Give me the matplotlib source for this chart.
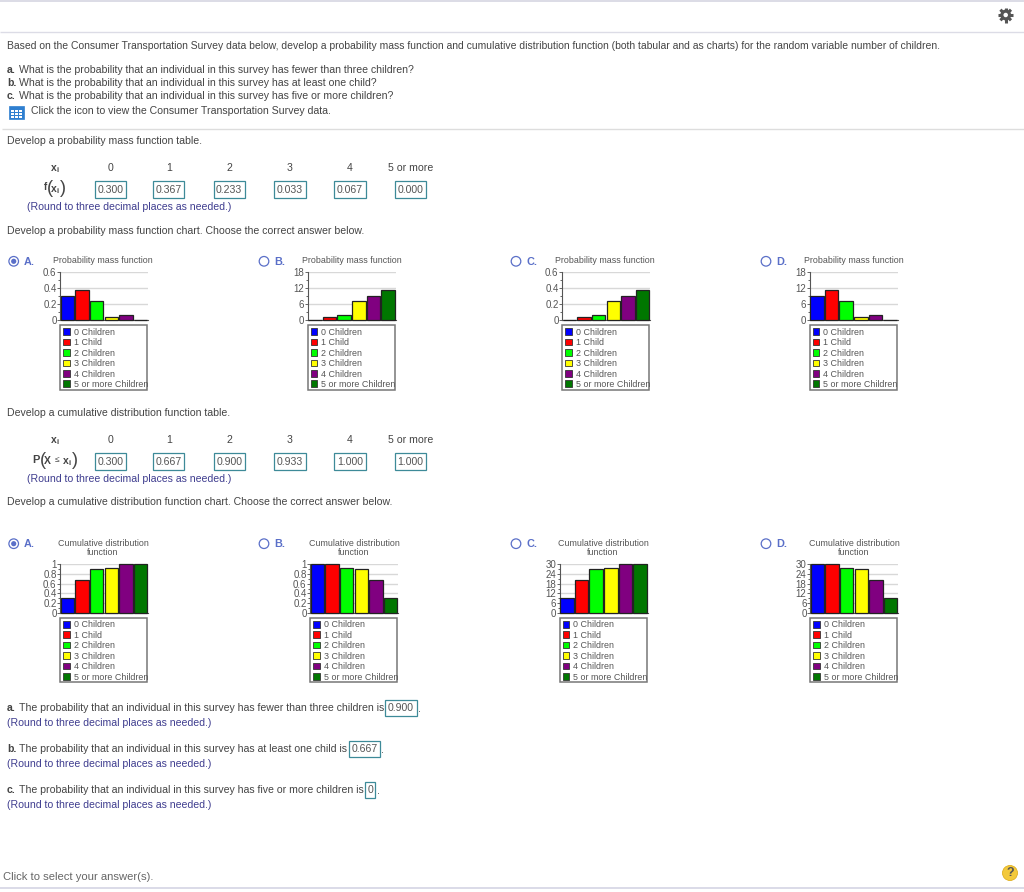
import numpy as np
import matplotlib
matplotlib.use("Agg")
import matplotlib.pyplot as plt
from matplotlib.patches import Circle, Rectangle

plt.rcParams["font.family"] = ["Liberation Sans", "DejaVu Sans"]

W, H = 1024, 892
TXT = "#444444"
NAVY = "#3f3d8f"
TEAL = "#3d8a98"
RADIO = "#5a6fc8"

categories = ["0 Children", "1 Child", "2 Children", "3 Children", "4 Children", "5 or more Children"]
bar_colors = ["#0000ff", "#ff0000", "#00ff00", "#ffff00", "#800080", "#007700"]

# table answers
x_heads = ["0", "1", "2", "3", "4", "5 or more"]
pmf_table = ["0.300", "0.367", "0.233", "0.033", "0.067", "0.000"]
cdf_table = ["0.300", "0.667", "0.900", "0.933", "1.000", "1.000"]

# bar values of the answer choices
pmf_a = [0.300, 0.367, 0.233, 0.033, 0.067, 0.0]
pmf_b = [0, 1, 2, 7, 9, 11]
pmf_c = [0.0, 0.033, 0.067, 0.233, 0.300, 0.367]
pmf_d = [9, 11, 7, 1, 2, 0]
cdf_a = [0.300, 0.667, 0.900, 0.933, 1.0, 1.0]
cdf_b = [1.0, 1.0, 0.933, 0.900, 0.667, 0.300]
cdf_c = [9, 20, 27, 28, 30, 30]
cdf_d = [30, 30, 28, 27, 20, 9]

fig = plt.figure(figsize=(W / 100, H / 100), dpi=100, facecolor="white")
page = fig.add_axes([0, 0, 1, 1])
page.set_xlim(0, W)
page.set_ylim(H, 0)
page.axis("off")


def put(x, y, s, size=7.55, color=TXT, **kw):
    kw.setdefault("va", "center")
    page.text(x, y + 0.8, s, fontsize=size, color=color, **kw)


def hline(y, x0=0, x1=W, color="#dcdce6", lw=1.0):
    page.plot([x0, x1], [y, y], color=color, lw=lw, solid_capstyle="butt")


def box(x0, x1, y0, y1, s, edge=TEAL):
    page.add_patch(Rectangle((x0, y0), x1 - x0, y1 - y0, fc="white", ec=edge, lw=0.9))
    put((x0 + x1) / 2, (y0 + y1) / 2 - 0.5, s, ha="center", color="#555555")


def radio(x, y, label, checked):
    page.add_patch(Circle((x, y), 4.8, fc="white", ec=RADIO, lw=0.9))
    if checked:
        page.add_patch(Circle((x, y), 2.6, fc=RADIO, ec="none"))
    put(x + 10.5, y - 0.5, label, color=RADIO, fontweight="bold", size=7.8)


def bar_chart(left, top, bottom, width, values, ymax, major, minor, labels):
    ax = fig.add_axes([left / W, 1 - bottom / H, width / W, (bottom - top) / H])
    ax.set_facecolor("none")
    ax.bar(range(6), values, width=0.91, color=bar_colors, edgecolor="#222222", lw=0.9, clip_on=False, zorder=3)
    ax.set_xlim(-0.5, 5.5)
    ax.set_ylim(0, ymax)
    ax.set_xticks([])
    ax.set_yticks(major)
    ax.set_yticklabels(labels)
    ax.set_yticks(minor, minor=True)
    ax.tick_params(axis="y", which="major", labelsize=7.0, labelcolor="#555555", color="#666666", length=2.5, width=0.7, pad=0)
    ax.tick_params(axis="y", which="minor", color="#666666", length=1.5, width=0.7)
    ax.grid(axis="y", which="major", color="#d8d8d8", lw=1.0)
    ax.set_axisbelow(True)
    for side in ["top", "right"]:
        ax.spines[side].set_visible(False)
    for side in ["left", "bottom"]:
        ax.spines[side].set_color("#555555")
        ax.spines[side].set_linewidth(0.8)


def legend(left, top):
    page.add_patch(Rectangle((left, top), 87, 64.5, fc="white", ec="#777777", lw=1.1))
    for i, (name, c) in enumerate(zip(categories, bar_colors)):
        y = top + 6.5 + i * 10.45
        page.add_patch(Rectangle((left + 3, y - 3.3), 6.8, 6.8, fc=c, ec="#333333", lw=0.6))
        put(left + 13.5, y, name, size=6.4, color="#555555")


def table(head_y, box_top, values):
    put(54, head_y, "x", fontweight="bold", ha="center", size=7.5)
    put(57.5, head_y + 2.5, "i", fontweight="bold", ha="center", size=5.5)
    for x, s in zip([110, 169, 229, 290, 350], x_heads[:5]):
        put(x, head_y, s, ha="center")
    put(410.5, head_y, x_heads[5], ha="center")
    for (x0, x1), s in zip([(95, 126), (153, 184), (213.5, 245), (274, 305.5), (334, 365.5), (395, 426)], values):
        box(x0, x1, box_top, box_top + 16.5, s)


def gear(x, y, r):
    for a in np.arange(8) * np.pi / 4:
        page.plot([x, x + r * np.cos(a)], [y, y + r * np.sin(a)], color="#555555", lw=2.2, solid_capstyle="butt")
    page.add_patch(Circle((x, y), r * 0.72, fc="#555555", ec="none", zorder=3))
    page.add_patch(Circle((x, y), r * 0.3, fc="white", ec="none", zorder=4))


# page frame
hline(0.5, lw=1.4)
hline(31.5)
hline(888, color="#d4d4e4", lw=1.2)
hline(129, x0=2, color="#dddddd")
gear(1005.7, 15, 7.5)

# question text
put(7, 45.5, "Based on the Consumer Transportation Survey data below, develop a probability mass function and cumulative distribution function (both tabular and as charts) for the random variable number of children.", size=7.45)
for y, tag, s in [
    (69.5, "a.", "What is the probability that an individual in this survey has fewer than three children?"),
    (82, "b.", "What is the probability that an individual in this survey has at least one child?"),
    (95, "c.", "What is the probability that an individual in this survey has five or more children?"),
]:
    put(7, y, tag, fontweight="bold")
    put(19, y, s)

# data table icon
page.add_patch(Rectangle((9, 105.5), 14.5, 13, fc="#2f7fd0", ec="#2f7fd0", lw=0.5))
for col in range(3):
    for row in range(3):
        page.add_patch(Rectangle((10.5 + col * 4.3, 109.5 + row * 3), 3, 2, fc="white", ec="none"))
put(31, 110.5, "Click the icon to view the Consumer Transportation Survey data.")

# pmf section
put(7, 140.5, "Develop a probability mass function table.")
table(167.5, 181, pmf_table)
put(43.5, 186.5, "f", fontweight="bold", size=7)
put(46.5, 188, "(", size=13, fontweight="light")
put(54, 188.5, "x", fontweight="bold", size=7.5, ha="center")
put(58, 191, "i", fontweight="bold", size=5.5, ha="center")
put(60, 188, ")", size=13)
put(27, 206, "(Round to three decimal places as needed.)", color=NAVY)
put(7, 230, "Develop a probability mass function chart. Choose the correct answer below.")

for rx, lab, checked in [(13.7, "A.", True), (264, "B.", False), (516, "C.", False), (766, "D.", False)]:
    radio(rx, 261.3, lab, checked)

pmf_ticks = ([0, 0.2, 0.4, 0.6], [0.1, 0.3, 0.5], ["0", "0.2", "0.4", "0.6"])
cnt_ticks = ([0, 6, 12, 18], [3, 9, 15], ["0", "6", "12", "18"])
for left, cx, vals, ymax, t in [
    (60, 103, pmf_a, 0.6, pmf_ticks),
    (307.5, 352, pmf_b, 18, cnt_ticks),
    (562, 604.5, pmf_c, 0.6, pmf_ticks),
    (809.5, 853.5, pmf_d, 18, cnt_ticks),
]:
    bar_chart(left, 271.7, 320, 88, vals, ymax, t[0], t[1], t[2])
    put(cx, 260, "Probability mass function", size=6.4, ha="center", color="#555555")
    legend(left, 325)

# cdf section
put(7, 412.5, "Develop a cumulative distribution function table.")
table(439.5, 453, cdf_table)
put(32, 459.5, "P", fontweight="bold", size=8)
put(39.5, 460, "(", size=13)
put(47.5, 460, "X", fontweight="bold", size=7.5, ha="center")
put(57, 460, "\u2264", size=6, ha="center")
put(65.5, 460, "x", fontweight="bold", size=7.5, ha="center")
put(69.5, 462.5, "i", fontweight="bold", size=5.5, ha="center")
put(72, 460, ")", size=13)
put(27, 478.5, "(Round to three decimal places as needed.)", color=NAVY)
put(7, 501.5, "Develop a cumulative distribution function chart. Choose the correct answer below.")

for rx, lab, checked in [(13.7, "A.", True), (264, "B.", False), (516, "C.", False), (766, "D.", False)]:
    radio(rx, 543.7, lab, checked)

frac_ticks = ([0, 0.2, 0.4, 0.6, 0.8, 1], [0.1, 0.3, 0.5, 0.7, 0.9], ["0", "0.2", "0.4", "0.6", "0.8", "1"])
tot_ticks = ([0, 6, 12, 18, 24, 30], [3, 9, 15, 21, 27], ["0", "6", "12", "18", "24", "30"])
for left, cx, vals, ymax, t in [
    (60, 103, cdf_a, 1, frac_ticks),
    (310, 354, cdf_b, 1, frac_ticks),
    (559.5, 603, cdf_c, 30, tot_ticks),
    (810, 854, cdf_d, 30, tot_ticks),
]:
    bar_chart(left, 564.3, 612.7, 88, vals, ymax, t[0], t[1], t[2])
    put(cx, 542.5, "Cumulative distribution", size=6.4, ha="center", color="#555555")
    put(cx, 551.5, "function", size=6.4, ha="center", color="#555555")
    legend(left, 617.5)

# written answers
for tag_y, box_x, ans, end, tag, s in [
    (707.5, (385, 416.5), "0.900", 418, "a.", "The probability that an individual in this survey has fewer than three children is"),
    (748.5, (349, 380), "0.667", 381.5, "b.", "The probability that an individual in this survey has at least one child is"),
    (789.5, (365, 375), "0", 376.5, "c.", "The probability that an individual in this survey has five or more children is"),
]:
    put(7, tag_y, tag, fontweight="bold")
    put(19, tag_y, s)
    box(box_x[0], box_x[1], tag_y - 7.5, tag_y + 8, ans)
    put(end, tag_y + 1, ".")
    put(7, tag_y + 15, "(Round to three decimal places as needed.)", color=NAVY)

put(3, 876, "Click to select your answer(s).", size=8.15, color="#666666")

# help button
page.add_patch(Circle((1010, 873), 7.5, fc="#f3c93b", ec="#e0b020", lw=0.6))
put(1010, 872, "?", size=9, color="#555555", ha="center", fontweight="bold")

fig.savefig("out.png", dpi=100)
